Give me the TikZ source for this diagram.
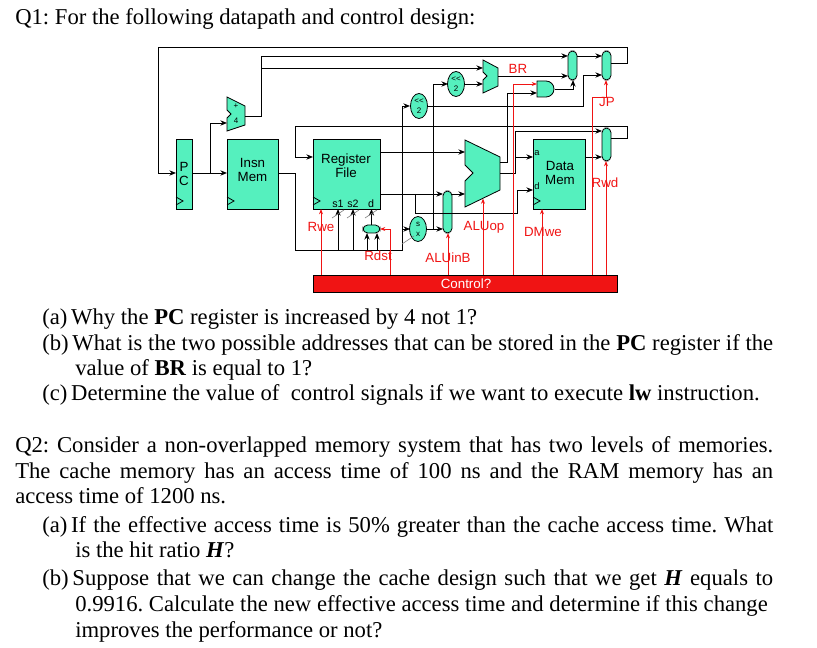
\documentclass[tikz,border=0pt]{standalone}
\usepackage{fontspec}
\setmainfont{Liberation Serif}
\newfontfamily\dsans{Liberation Sans}
\usetikzlibrary{arrows.meta}
\definecolor{teal1}{RGB}{85,240,190}
\definecolor{ctlred}{RGB}{240,20,20}
\begin{document}
\frenchspacing
\begin{tikzpicture}[x=0.75pt,y=-0.75pt,
  wire/.style={line width=0.7pt},
  arr/.style={wire,-{Stealth[length=5pt,width=4pt]}},
  red/.style={ctlred,line width=0.7pt,-{Stealth[length=4pt,width=3pt]}},
  blk/.style={draw,fill=teal1,line width=0.6pt},
  mux/.style={draw,fill=teal1,line width=0.6pt,rounded corners=3.5pt},
  lbl/.style={font=\dsans\fontsize{10}{10.5}\selectfont,align=center,inner sep=0},
  rlbl/.style={font=\dsans\fontsize{10}{10}\selectfont,text=ctlred,inner sep=0},
  txt/.style={anchor=base west,inner sep=0,font=\fontsize{17}{20}\selectfont},
  clk/.style={line width=0.6pt}]
\useasboundingbox (0,0) rectangle (817,648);
% boxes
\node[blk,minimum width=12pt,minimum height=52.5pt,anchor=north west] (pc) at (176,139) {};
\node[lbl] (pct) at (184,174) {P\\C};
\node[blk,minimum width=38pt,minimum height=52.5pt,anchor=north west] (im) at (227,139) {};
\node[lbl] (imt) at (252.5,170) {Insn\\Mem};
\node[blk,minimum width=50pt,minimum height=52.5pt,anchor=north west] (rf) at (313,139) {};
\node[lbl] (rft) at (346,166) {Register\\File};
\node[blk,minimum width=39pt,minimum height=52.5pt,anchor=north west] (dm) at (533,139) {};
\node[lbl] (dmt) at (560,173) {Data\\Mem};
\node[font=\dsans\fontsize{7}{7}\selectfont,inner sep=0] (dma) at (537,153) {a};
\node[font=\dsans\fontsize{7}{7}\selectfont,inner sep=0] (dmd) at (537,186) {d};
\node[font=\dsans\fontsize{8}{8}\selectfont,inner sep=0] (s1) at (338,204) {s1};
\node[font=\dsans\fontsize{8}{8}\selectfont,inner sep=0] (s2) at (353,204) {s2};
\node[font=\dsans\fontsize{8}{8}\selectfont,inner sep=0] (sd) at (371,204) {d};
% clocks
\foreach \x/\y in {176/209,227/209,313/209,533/209}
  \draw[clk] (\x,\y-12) -- (\x+7,\y-8) -- (\x,\y-4);
% adders and ALU
\draw[blk] (227,97) -- (245,106) -- (245,125) -- (227,131) -- (227,118) -- (231,114) -- (227,110) -- cycle;
\node[font=\dsans\fontsize{6}{6}\selectfont,inner sep=0] (plus) at (236,106) {+};
\node[font=\dsans\fontsize{6}{6}\selectfont,inner sep=0] (four) at (236,121) {4};
\draw[blk] (483,60) -- (498,68) -- (498,86) -- (483,93) -- (483,80) -- (487,76) -- (483,72) -- cycle;
\draw[blk] (465,140) -- (500,157) -- (500,190) -- (465,207) -- (465,181) -- (473,173) -- (465,165) -- cycle;
% AND gate
\draw[blk] (537,81) -- (546,81) arc[start angle=-90,end angle=90,radius=8] -- (537,97) -- cycle;
% ellipses
\foreach \cx/\cy/\a/\b in {456/84/<</2,419/106/<</2,418/229/s/x}{
  \draw[blk] (\cx,\cy) ellipse [x radius=8.5, y radius=12.5];
  \node[font=\dsans\fontsize{6}{6}\selectfont,inner sep=0] at (\cx,\cy-5) {\a};
  \node[font=\dsans\fontsize{6}{6}\selectfont,inner sep=0] at (\cx,\cy+5) {\b};}
% muxes
\draw[mux] (568,51) rectangle (577,80);
\draw[mux] (602,51) rectangle (611,80);
\draw[mux] (602,128) rectangle (611,161);
\draw[mux] (443,191) rectangle (452,233);
\draw[mux] (363,225) rectangle (380,233);
% wires
\draw[arr] (611,63) -- (627,63) -- (627,47) -- (158,47) -- (158,173) -- (176,173);
\draw[arr] (192,173) -- (227,173);
\draw[arr] (210,173) -- (210,123) -- (227,123);
\draw[arr] (245,116) -- (261,116) -- (261,56) -- (568,56);
\draw[arr] (261,68) -- (483,68);
\draw[arr] (498,76) -- (568,76);
\draw[arr] (465,84) -- (483,84);
\draw[arr] (577,56) -- (602,56);
\draw[arr] (428,106) -- (583,106) -- (583,75) -- (602,75);
\draw[arr] (555,89) -- (573,89) -- (573,80);
\draw[arr] (500,162) -- (507,162) -- (507,93) -- (537,93);
\draw[arr] (500,173) -- (515,173) -- (515,131) -- (602,131);
\draw[arr] (515,157) -- (533,157);
\draw[arr] (585,157) -- (602,157);
\draw[arr] (611,138) -- (627,138) -- (627,126) -- (295,126) -- (295,157) -- (313,157);
\draw[wire] (278,173) -- (295,173) -- (295,250) -- (402,250) -- (402,106);
\draw[arr] (402,106) -- (410,106);
\draw[arr] (402,229) -- (410,229);
\draw[arr] (427,229) -- (443,229);
\draw[arr] (433,229) -- (433,84) -- (448,84);
\draw[arr] (380,152) -- (465,152);
\draw[arr] (380,194) -- (443,194);
\draw[arr] (452,194) -- (465,194);
\draw[arr] (415,194) -- (415,213) -- (517,213) -- (517,190) -- (533,190);
\draw[arr] (338,250) -- (338,209);
\draw[arr] (353,250) -- (353,209);
\draw[arr] (367,250) -- (367,233);
\draw[arr] (377,250) -- (377,233);
\draw[arr] (371.5,225) -- (371.5,209);
% bus slashes
\foreach \x/\y in {338/214,353/214,371/214,408/240}
  \draw[gray,line width=0.5pt] (\x-6,\y+4) -- (\x+6,\y-4);
% control
\node[draw=black,fill=ctlred,minimum width=228pt,minimum height=12.5pt,anchor=north west,inner sep=0,line width=0.6pt] (ctl) at (313,275) {};
\node[font=\dsans\fontsize{10}{10}\selectfont,text=white,inner sep=0] (ctlt) at (466,284) {Control?};
\draw[red] (321,275) -- (321,209);
\draw[red] (390,275) -- (390,229) -- (380,229);
\draw[red] (448,275) -- (448,233);
\draw[red] (483,275) -- (483,198.5);
\draw[red] (513,275) -- (513,84) -- (537,84);
\draw[red] (542,275) -- (542,209);
\draw[red] (592,275) -- (592,97) -- (606,97) -- (606,80);
\draw[red] (606,275) -- (606,161);
\node[rlbl] (rwe) at (321,227) {Rwe};
\node[rlbl] (rdst) at (378,256) {Rdst};
\node[rlbl] (aluinb) at (448,258) {ALUinB};
\node[rlbl] (aluop) at (484,227) {ALUop};
\node[rlbl] (dmwe) at (543,232) {DMwe};
\node[rlbl] (br) at (518,69) {BR};
\node[rlbl] (jp) at (607,102) {JP};
\node[rlbl] (rwd) at (605,183) {Rwd};
% text
\node[txt] (t0) at (15,25) {Q1: For the following datapath and control design:};
\node[txt] (t1) at (42,325) {(a)\,Why the \textbf{PC} register is increased by 4 not 1?};
\node[txt] (t2) at (42,350) {\makebox[548.25pt][s]{(b)\,What is the two possible addresses that can be stored in the \textbf{PC} register if the}};
\node[txt] (t3) at (75,375) {value of \textbf{BR} is equal to 1?};
\node[txt] (t4) at (42,401) {(c)\,Determine the value of\ \ control signals if we want to execute \textbf{lw} instruction.};
\node[txt] (t5) at (15,452) {\makebox[568.5pt][s]{Q2: Consider a non-overlapped memory system that has two levels of memories.}};
\node[txt] (t6) at (15,478) {\makebox[568.5pt][s]{The cache memory has an access time of 100 ns and the RAM memory has an}};
\node[txt] (t7) at (15,503) {access time of 1200 ns.};
\node[txt] (t8) at (42,532) {\makebox[548.25pt][s]{(a)\,If the effective access time is 50\% greater than the cache access time. What}};
\node[txt] (t9) at (75,557) {is the hit ratio \textbf{\textit{H}}?};
\node[txt] (t10) at (42,585) {\makebox[548.25pt][s]{(b)\,Suppose that we can change the cache design such that we get \textbf{\textit{H}} equals to}};
\node[txt] (t11) at (75,611) {0.9916. Calculate the new effective access time and determine if this change};
\node[txt] (t12) at (75,637) {improves the performance or not?};
\end{tikzpicture}
\end{document}
